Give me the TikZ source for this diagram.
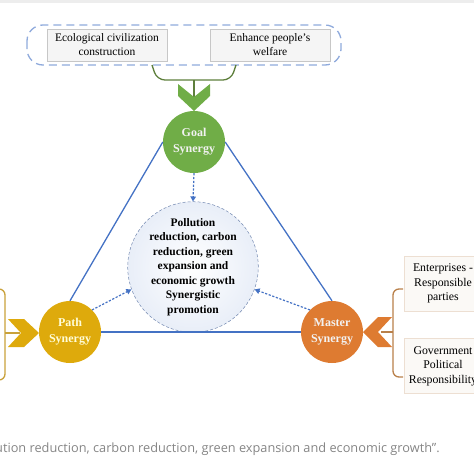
\documentclass[tikz,border=0pt]{standalone}
\usepackage{fontspec}
\setmainfont{Liberation Serif}
\newfontfamily\capfont{Open Sans}
\usetikzlibrary{arrows.meta,shapes.geometric}
\definecolor{goalg}{HTML}{70AD47}
\definecolor{pathy}{HTML}{DEAA0C}
\definecolor{mastero}{HTML}{DE7B31}
\definecolor{lineb}{HTML}{4472C4}
\definecolor{dashb}{HTML}{8FAADC}
\definecolor{brgreen}{HTML}{5E7F3C}
\definecolor{bryellow}{HTML}{C9A13A}
\definecolor{brorange}{HTML}{B9804A}
\tikzset{
  syn/.style={circle, minimum size=62pt, inner sep=0pt, align=center, text=white!95!black,
    font=\bfseries\fontsize{12}{16}\selectfont},
  topbox/.style={draw=black!22, fill=black!4, minimum width=120pt, minimum height=32pt,
    inner sep=1pt, align=center, font=\fontsize{11.5}{14}\selectfont},
  sidebox/.style={draw=brorange!25, fill=brorange!5, minimum width=78pt, minimum height=55pt,
    inner sep=1pt, align=center, font=\fontsize{11.8}{14.5}\selectfont},
  tri/.style={draw=lineb, line width=1.3pt},
  flow/.style={draw=lineb, line width=1.2pt, dash pattern=on 2.2pt off 1.6pt,
    -{Triangle[length=5pt,width=5.5pt]}},
}
\begin{document}
\begin{tikzpicture}[x=1pt,y=-1pt]
\useasboundingbox (0,0) rectangle (474,474);
\clip (0,0) rectangle (474,474);
\fill[black!7] (0,0) rectangle (474,2.5);

% top group
\draw[dashb, line width=1.3pt, dash pattern=on 8pt off 5pt, rounded corners=16pt]
  (27,25) rectangle (341,65);
\node[topbox] (eco) at (107,45) {Ecological civilization\\construction};
\node[topbox] (wel) at (270,45) {Enhance people’s\\welfare};
\coordinate (bl) at (152,65);
\coordinate (br) at (236,65);
\coordinate (bm) at (194,80);
\coordinate (bn) at (194,97);
\draw[brgreen, line width=1.3pt, rounded corners=8pt] (bl) -- (157,80) -- (231,80) -- (br);
\draw[brgreen, line width=1.3pt] (bm) -- (bn);
\fill[goalg] (178,84) -- (178,96) -- (194,111) -- (210,96) -- (210,84) -- (194,97) -- cycle;

% circles
\node[syn, fill=goalg] (goal) at (194,142) {Goal\\Synergy};
\node[syn, fill=pathy, text=white!85!yellow] (path) at (70,332) {Path\\Synergy};
\node[syn, fill=mastero] (master) at (332,332) {Master\\Synergy};
\node[circle, minimum size=120pt, inner sep=0pt, draw=dashb!80!black, densely dashed, line width=0.5pt,
  inner color=white, outer color=lineb!12, align=center,
  font=\bfseries\fontsize{11.5}{14.5}\selectfont] (ctr) at (193,267)
  {Pollution\\reduction, carbon\\reduction, green\\expansion and\\economic growth\\Synergistic\\promotion};

% triangle
\draw[tri] (goal.west) -- (path.north);
\draw[tri] (goal.east) -- (master.north);
\draw[tri] (path.east) -- (master.west);

% flows
\draw[flow] (goal.south) -- (ctr.north);
\draw[flow] (path.north east) -- (ctr.200);
\draw[flow] (master.north west) -- (ctr.-20);

% left side
\coordinate (ln) at (20,333);
\coordinate (lb) at (5,333);
\draw[bryellow, line width=1.3pt, rounded corners=6pt] (-2,289) -- (5,289) -- (5,380) -- (-2,380);
\draw[bryellow, line width=1.3pt] (lb) -- (ln);
\fill[pathy] (8,319) -- (24,319) -- (39,333) -- (24,347) -- (8,347) -- (21,333) -- cycle;

% right side
\node[sidebox] (ent) at (443,283.5) {Enterprises -\\Responsible\\parties};
\node[sidebox] (gov) at (443,366) {Government\\Political\\Responsibility};
\coordinate (rn) at (381,332);
\coordinate (rb) at (393,332);
\draw[brorange, line width=1.3pt, rounded corners=6pt] (403,289) -- (393,289) -- (393,377) -- (403,377);
\draw[brorange, line width=1.3pt] (rn) -- (rb);
\fill[mastero] (363,332) -- (378,317) -- (392,317) -- (378,332) -- (392,347) -- (378,347) -- cycle;

% caption
\node[anchor=base east, inner sep=0pt, text=black!48, font=\capfont\fontsize{12.75}{16}\selectfont] (cap)
  at (440,452) {“Pollution reduction, carbon reduction, green expansion and economic growth”.};
\end{tikzpicture}
\end{document}
